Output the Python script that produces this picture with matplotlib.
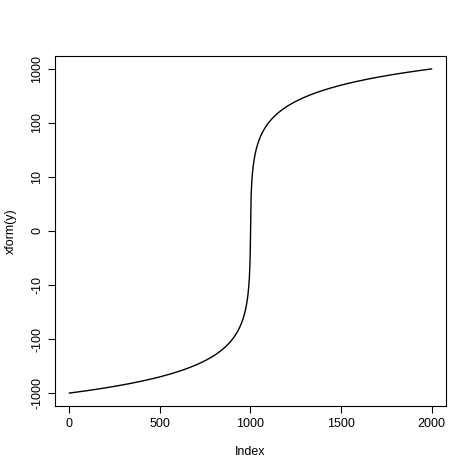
import numpy as np
import matplotlib
matplotlib.use("Agg")
import matplotlib.pyplot as plt

n = 2000
y = np.linspace(-1000, 1000, n)
index = np.arange(1, n + 1)
xform = np.sign(y) * np.log10(1 + np.abs(y))
ytick_pos = [-3, -2, -1, 0, 1, 2, 3]
ytick_labels = ["-1000", "-100", "-10", "0", "10", "100", "1000"]
xticks = [0, 500, 1000, 1500, 2000]

plt.rcParams['font.family'] = ['Liberation Sans', 'DejaVu Sans']
fig = plt.figure(figsize=(4.74, 4.73), dpi=100)
ax = fig.add_axes([55/474, 1-406/473, (446-55)/474, (406-56)/473])
ax.plot(index, xform, color="black", lw=1)
ax.set_xlim(1 - 0.04*1999, 2000 + 0.04*1999)
ax.set_ylim(-3.0 - 0.04*6.0, 3.0 + 0.04*6.0)
ax.set_xticks(xticks)
ax.set_yticks(ytick_pos)
ax.set_yticklabels(ytick_labels, rotation=90, va="center")
ax.tick_params(labelsize=9, length=5, direction="out", width=0.8)
ax.set_xlabel("Index", fontsize=9, labelpad=12)
ax.set_ylabel("xform(y)", fontsize=9, labelpad=10)
for s in ax.spines.values():
    s.set_linewidth(0.8)
fig.savefig("out.png", dpi=100)
